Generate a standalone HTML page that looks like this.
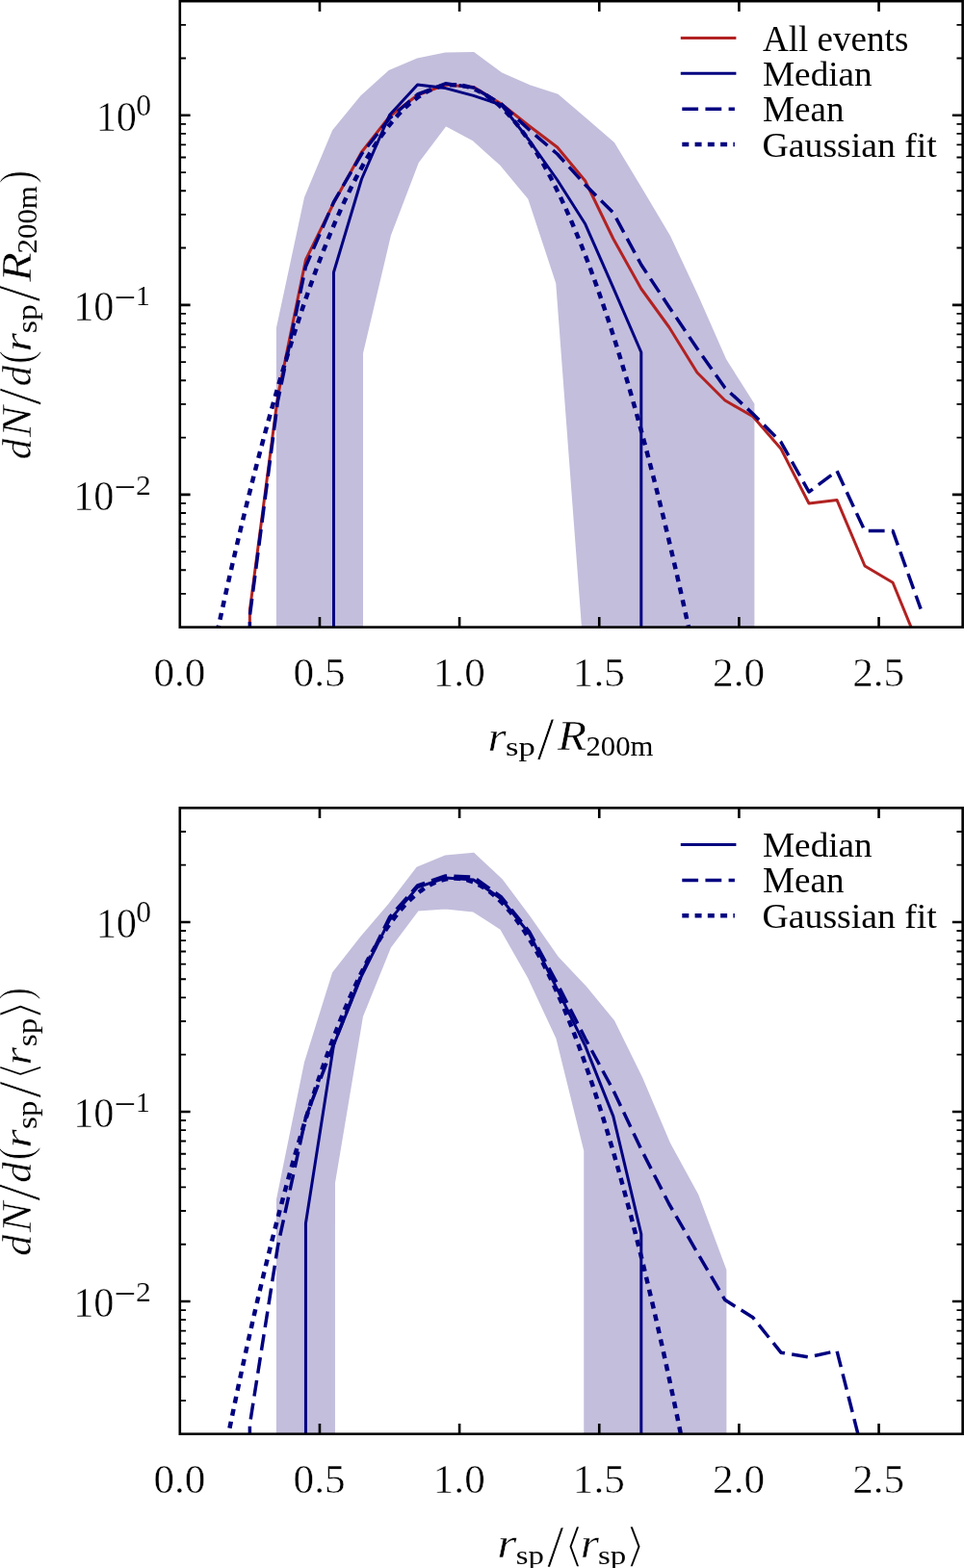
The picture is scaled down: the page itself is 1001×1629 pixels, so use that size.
<!DOCTYPE html>
<html><head><meta charset="utf-8"><title>Figure</title>
<style>
html,body{margin:0;padding:0;background:#fff;overflow:hidden;}
svg{display:block;}
text{font-family:"Liberation Serif","DejaVu Serif",serif;fill:#000;}
.it{font-style:italic;}
</style></head><body>
<svg width="1001" height="1629" viewBox="0 0 1001 1629">
<rect width="1001" height="1629" fill="#fff"/>
<defs>
<clipPath id="c0"><rect x="186.8" y="1.2" width="812.84" height="650.4"/></clipPath>
<clipPath id="c1"><rect x="186.8" y="839.35" width="812.84" height="650.4"/></clipPath>
</defs>
<g clip-path="url(#c0)">
<path d="M288.41 691.6 L288.41 341 L317.44 205.5 L346.47 136 L375.5 100.5 L404.53 74.3 L433.56 62 L462.59 56 L491.62 55.6 L520.64 77 L549.68 89.6 L578.71 99 L607.74 124 L636.77 149 L665.8 197 L694.83 246 L723.86 308 L752.88 374 L781.91 420 L781.91 691.6 L607.74 682 L578.71 294 L549.68 206 L520.64 171 L491.62 145 L462.59 129.5 L433.56 168 L404.53 244 L375.5 367 L375.5 691.6 Z" fill="rgb(195,190,220)" stroke="rgb(195,190,220)" stroke-width="3" stroke-linejoin="miter"/>
<path d="M259.38 691.6 L259.38 634 L288.41 412 L317.44 270 L346.47 211 L375.5 158 L404.53 121 L433.56 98.8 L462.59 88 L491.62 90.4 L520.64 108 L549.68 131 L578.71 153 L607.74 188 L636.77 248 L665.8 300 L694.83 340 L723.86 387 L752.88 416 L781.91 432.7 L810.94 466.3 L839.98 523 L869.01 519.4 L898.04 588 L927.07 605.3 L956.1 676 L956.1 691.6" fill="none" stroke="#b22222" stroke-width="3.0" stroke-linejoin="round"/>
<path d="M346.47 691.6 L346.47 283 L375.5 186 L404.53 119.5 L433.56 88 L462.59 91.6 L491.62 99.4 L520.64 109 L549.68 146 L578.71 187 L607.74 232.8 L636.77 298.9 L665.8 366 L665.8 691.6" fill="none" stroke="#000080" stroke-width="3.0" stroke-linejoin="round"/>
<path d="M259.38 691.6 L259.38 640 L288.41 417 L317.44 277 L346.47 210 L375.5 160 L404.53 123 L433.56 98 L462.59 86.8 L491.62 91 L520.64 108 L549.68 135 L578.71 160 L607.74 192 L636.77 221 L665.8 275 L694.83 319 L723.86 362 L752.88 403 L781.91 430 L810.94 459.3 L839.98 511 L869.01 489.2 L898.04 551.6 L927.07 551.6 L956.1 632.7" fill="none" stroke="#000080" stroke-width="3.5" stroke-dasharray="16.8 7.35" stroke-dashoffset="19.42" stroke-linejoin="round"/>
<path d="M221.35 676.61 L223.38 667.07 L225.41 657.6 L227.44 648.21 L229.47 638.9 L231.51 629.66 L233.54 620.51 L235.57 611.43 L237.6 602.43 L239.63 593.51 L241.67 584.66 L243.7 575.9 L245.73 567.21 L247.76 558.6 L249.8 550.07 L251.83 541.62 L253.86 533.24 L255.89 524.94 L257.92 516.72 L259.96 508.58 L261.99 500.52 L264.02 492.54 L266.05 484.63 L268.08 476.8 L270.12 469.05 L272.15 461.38 L274.18 453.78 L276.21 446.26 L278.24 438.83 L280.28 431.47 L282.31 424.18 L284.34 416.98 L286.37 409.85 L288.41 402.8 L290.44 395.83 L292.47 388.94 L294.5 382.13 L296.53 375.39 L298.57 368.73 L300.6 362.15 L302.63 355.65 L304.66 349.23 L306.69 342.88 L308.73 336.62 L310.76 330.43 L312.79 324.31 L314.82 318.28 L316.85 312.33 L318.89 306.45 L320.92 300.65 L322.95 294.93 L324.98 289.29 L327.01 283.72 L329.05 278.23 L331.08 272.82 L333.11 267.49 L335.14 262.24 L337.18 257.07 L339.21 251.97 L341.24 246.95 L343.27 242.01 L345.3 237.15 L347.34 232.36 L349.37 227.66 L351.4 223.03 L353.43 218.48 L355.46 214.01 L357.5 209.61 L359.53 205.3 L361.56 201.06 L363.59 196.9 L365.62 192.82 L367.66 188.81 L369.69 184.89 L371.72 181.04 L373.75 177.27 L375.79 173.58 L377.82 169.97 L379.85 166.43 L381.88 162.97 L383.91 159.6 L385.95 156.29 L387.98 153.07 L390.01 149.93 L392.04 146.86 L394.07 143.87 L396.11 140.96 L398.14 138.13 L400.17 135.37 L402.2 132.7 L404.23 130.1 L406.27 127.58 L408.3 125.14 L410.33 122.77 L412.36 120.48 L414.4 118.28 L416.43 116.15 L418.46 114.09 L420.49 112.12 L422.52 110.22 L424.56 108.41 L426.59 106.67 L428.62 105.01 L430.65 103.42 L432.68 101.92 L434.72 100.49 L436.75 99.14 L438.78 97.87 L440.81 96.67 L442.84 95.56 L444.88 94.52 L446.91 93.56 L448.94 92.68 L450.97 91.88 L453.01 91.15 L455.04 90.51 L457.07 89.94 L459.1 89.45 L461.13 89.04 L463.17 88.7 L465.2 88.44 L467.23 88.27 L469.26 88.17 L471.29 88.14 L473.33 88.2 L475.36 88.33 L477.39 88.54 L479.42 88.83 L481.45 89.2 L483.49 89.65 L485.52 90.17 L487.55 90.77 L489.58 91.46 L491.62 92.21 L493.65 93.05 L495.68 93.96 L497.71 94.96 L499.74 96.03 L501.78 97.18 L503.81 98.4 L505.84 99.71 L507.87 101.09 L509.9 102.55 L511.94 104.09 L513.97 105.71 L516 107.4 L518.03 109.18 L520.06 111.03 L522.1 112.96 L524.13 114.96 L526.16 117.05 L528.19 119.21 L530.22 121.45 L532.26 123.77 L534.29 126.17 L536.32 128.65 L538.35 131.2 L540.39 133.83 L542.42 136.54 L544.45 139.33 L546.48 142.2 L548.51 145.14 L550.55 148.16 L552.58 151.26 L554.61 154.44 L556.64 157.7 L558.67 161.03 L560.71 164.45 L562.74 167.94 L564.77 171.51 L566.8 175.15 L568.83 178.88 L570.87 182.68 L572.9 186.56 L574.93 190.52 L576.96 194.56 L579 198.67 L581.03 202.87 L583.06 207.14 L585.09 211.49 L587.12 215.91 L589.16 220.42 L591.19 225 L593.22 229.67 L595.25 234.4 L597.28 239.22 L599.32 244.12 L601.35 249.09 L603.38 254.14 L605.41 259.27 L607.44 264.48 L609.48 269.77 L611.51 275.13 L613.54 280.58 L615.57 286.1 L617.61 291.69 L619.64 297.37 L621.67 303.13 L623.7 308.96 L625.73 314.87 L627.77 320.86 L629.8 326.92 L631.83 333.07 L633.86 339.29 L635.89 345.59 L637.93 351.97 L639.96 358.43 L641.99 364.96 L644.02 371.58 L646.05 378.27 L648.09 385.04 L650.12 391.89 L652.15 398.81 L654.18 405.82 L656.22 412.9 L658.25 420.06 L660.28 427.29 L662.31 434.61 L664.34 442 L666.38 449.48 L668.41 457.03 L670.44 464.65 L672.47 472.36 L674.5 480.14 L676.54 488.01 L678.57 495.95 L680.6 503.97 L682.63 512.06 L684.66 520.24 L686.7 528.49 L688.73 536.82 L690.76 545.23 L692.79 553.72 L694.83 562.28 L696.86 570.92 L698.89 579.65 L700.92 588.44 L702.95 597.32 L704.99 606.28 L707.02 615.31 L709.05 624.42 L711.08 633.61 L713.11 642.88 L715.15 652.22 L717.18 661.65 L719.21 671.15 L721.24 680.73" fill="none" stroke="#000080" stroke-width="4.5" stroke-dasharray="7.0 6.27" stroke-dashoffset="6.15"/>
</g>
<path d="M331.95 651.6 V640.9 M331.95 1.2 V11.9 M477.1 651.6 V640.9 M477.1 1.2 V11.9 M622.25 651.6 V640.9 M622.25 1.2 V11.9 M767.4 651.6 V640.9 M767.4 1.2 V11.9 M912.55 651.6 V640.9 M912.55 1.2 V11.9 M186.8 316.85 H197.6 M999.64 316.85 H988.84 M186.8 119.82 H197.6 M999.64 119.82 H988.84 M186.8 513.88 H197.6 M999.64 513.88 H988.84" stroke="#000" stroke-width="2.6" fill="none"/>
<path d="M186.8 616.9 H193 M999.64 616.9 H993.44 M186.8 592.29 H193 M999.64 592.29 H993.44 M186.8 573.19 H193 M999.64 573.19 H993.44 M186.8 557.59 H193 M999.64 557.59 H993.44 M186.8 544.4 H193 M999.64 544.4 H993.44 M186.8 532.98 H193 M999.64 532.98 H993.44 M186.8 522.9 H193 M999.64 522.9 H993.44 M186.8 454.57 H193 M999.64 454.57 H993.44 M186.8 419.88 H193 M999.64 419.88 H993.44 M186.8 395.26 H193 M999.64 395.26 H993.44 M186.8 376.16 H193 M999.64 376.16 H993.44 M186.8 360.56 H193 M999.64 360.56 H993.44 M186.8 347.37 H193 M999.64 347.37 H993.44 M186.8 335.95 H193 M999.64 335.95 H993.44 M186.8 325.87 H193 M999.64 325.87 H993.44 M186.8 257.54 H193 M999.64 257.54 H993.44 M186.8 222.85 H193 M999.64 222.85 H993.44 M186.8 198.23 H193 M999.64 198.23 H993.44 M186.8 179.14 H193 M999.64 179.14 H993.44 M186.8 163.53 H193 M999.64 163.53 H993.44 M186.8 150.34 H193 M999.64 150.34 H993.44 M186.8 138.92 H193 M999.64 138.92 H993.44 M186.8 128.84 H193 M999.64 128.84 H993.44 M186.8 60.51 H193 M999.64 60.51 H993.44 M186.8 25.82 H193 M999.64 25.82 H993.44" stroke="#000" stroke-width="1.85" fill="none"/>
<rect x="186.8" y="1.2" width="812.84" height="650.4" fill="none" stroke="#000" stroke-width="2.6" stroke-linejoin="miter"/>
<g transform="translate(186.45 712.74) scale(1.0306 1.0286)"><text x="0" y="0" font-size="42" text-anchor="middle" stroke="#fff" stroke-width="0.5">0.0</text></g>
<g transform="translate(331.6 712.74) scale(1.0306 1.0286)"><text x="0" y="0" font-size="42" text-anchor="middle" stroke="#fff" stroke-width="0.5">0.5</text></g>
<g transform="translate(476.75 712.74) scale(1.0306 1.0286)"><text x="0" y="0" font-size="42" text-anchor="middle" stroke="#fff" stroke-width="0.5">1.0</text></g>
<g transform="translate(621.9 712.74) scale(1.0306 1.0286)"><text x="0" y="0" font-size="42" text-anchor="middle" stroke="#fff" stroke-width="0.5">1.5</text></g>
<g transform="translate(767.05 712.74) scale(1.0306 1.0286)"><text x="0" y="0" font-size="42" text-anchor="middle" stroke="#fff" stroke-width="0.5">2.0</text></g>
<g transform="translate(912.2 712.74) scale(1.0306 1.0286)"><text x="0" y="0" font-size="42" text-anchor="middle" stroke="#fff" stroke-width="0.5">2.5</text></g>
<g transform="translate(99.66 135.64) scale(1.0097 1.0536)"><text x="0" y="0" font-size="42" stroke="#fff" stroke-width="0.5">10</text></g>
<g transform="translate(141.28 119.94) scale(1.0560 1.0350)"><text x="0" y="0" font-size="30" stroke="#fff" stroke-width="0.2">0</text></g>
<g transform="translate(76.16 332.74) scale(1.0097 1.0536)"><text x="0" y="0" font-size="42" stroke="#fff" stroke-width="0.5">10</text></g>
<g transform="translate(118.41 321) scale(1.3286 1.2000)"><text x="0" y="0" font-size="30">−</text></g>
<g transform="translate(141.1 317) scale(0.9810 1.0127)"><text x="0" y="0" font-size="30">1</text></g>
<g transform="translate(76.16 529.84) scale(1.0097 1.0536)"><text x="0" y="0" font-size="42" stroke="#fff" stroke-width="0.5">10</text></g>
<g transform="translate(118.41 518.1) scale(1.3286 1.2000)"><text x="0" y="0" font-size="30">−</text></g>
<g transform="translate(141.02 514.05) scale(1.0553 1.0051)"><text x="0" y="0" font-size="30" stroke="#fff" stroke-width="0.2">2</text></g>
<path d="M708.3 39.4 H762.9" stroke="#b22222" stroke-width="3.0" stroke-linecap="square"/>
<g transform="translate(791.96 52.65) scale(0.9759 1.0038)"><text x="0" y="0" font-size="38">All events</text></g>
<path d="M708.3 76.3 H762.9" stroke="#000080" stroke-width="3.0" stroke-linecap="square"/>
<g transform="translate(792.02 88.96) scale(0.9799 0.9509)"><text x="0" y="0" font-size="38">Median</text></g>
<path d="M708.3 113.2 H762.9" stroke="#000080" stroke-width="3.5" stroke-dasharray="16.8 7.35"/>
<g transform="translate(792.02 125.76) scale(0.9765 0.9720)"><text x="0" y="0" font-size="38">Mean</text></g>
<path d="M708.3 150.1 H762.9" stroke="#000080" stroke-width="4.5" stroke-dasharray="7.0 6.27"/>
<g transform="translate(791.51 162.97) scale(0.9936 0.9333)"><text x="0" y="0" font-size="38">Gaussian fit</text></g>
<g clip-path="url(#c1)">
<path d="M288.41 1529.75 L288.41 1246.5 L317.44 1103.8 L346.47 1011 L375.5 974 L404.53 940 L433.56 902 L462.59 890 L491.62 887.2 L520.64 914.5 L549.68 953.5 L578.71 995 L607.74 1025.8 L636.77 1061.1 L665.8 1120 L694.83 1188.5 L723.86 1241.6 L752.88 1319.5 L752.88 1529.75 L607.74 1529.75 L607.74 1195.3 L578.71 1078 L549.68 1015.8 L520.64 964.7 L491.62 945.9 L462.59 943.1 L433.56 945.1 L404.53 983.9 L375.5 1055.8 L346.47 1229 L346.47 1529.75 Z" fill="rgb(195,190,220)" stroke="rgb(195,190,220)" stroke-width="3" stroke-linejoin="miter"/>
<path d="M317.44 1529.75 L317.44 1271 L346.47 1085.8 L375.5 1013.8 L404.53 955.9 L433.56 921.9 L462.59 912 L491.62 914 L520.64 934 L549.68 970 L578.71 1027.8 L607.74 1086.6 L636.77 1159.6 L665.8 1282 L665.8 1529.75" fill="none" stroke="#000080" stroke-width="3.0" stroke-linejoin="round"/>
<path d="M259.38 1529.75 L259.38 1480 L288.41 1295 L317.44 1161 L346.47 1085 L375.5 1012 L404.53 953 L433.56 920 L462.59 910 L491.62 911 L520.64 932 L549.68 968 L578.71 1022 L607.74 1079 L636.77 1132.6 L665.8 1194 L694.83 1251 L723.86 1301 L752.88 1350.6 L781.91 1368.8 L810.94 1405.2 L839.98 1409.9 L869.01 1403.4 L898.04 1518" fill="none" stroke="#000080" stroke-width="3.5" stroke-dasharray="16.8 7.35" stroke-dashoffset="17.08" stroke-linejoin="round"/>
<path d="M231.51 1518.17 L233.54 1507.98 L235.57 1497.88 L237.6 1487.86 L239.63 1477.93 L241.67 1468.09 L243.7 1458.33 L245.73 1448.66 L247.76 1439.07 L249.8 1429.58 L251.83 1420.16 L253.86 1410.84 L255.89 1401.6 L257.92 1392.45 L259.96 1383.38 L261.99 1374.4 L264.02 1365.51 L266.05 1356.71 L268.08 1347.99 L270.12 1339.35 L272.15 1330.81 L274.18 1322.34 L276.21 1313.97 L278.24 1305.68 L280.28 1297.48 L282.31 1289.37 L284.34 1281.34 L286.37 1273.4 L288.41 1265.54 L290.44 1257.77 L292.47 1250.09 L294.5 1242.49 L296.53 1234.98 L298.57 1227.56 L300.6 1220.22 L302.63 1212.97 L304.66 1205.81 L306.69 1198.73 L308.73 1191.74 L310.76 1184.84 L312.79 1178.02 L314.82 1171.29 L316.85 1164.64 L318.89 1158.08 L320.92 1151.61 L322.95 1145.22 L324.98 1138.92 L327.01 1132.71 L329.05 1126.59 L331.08 1120.55 L333.11 1114.59 L335.14 1108.72 L337.18 1102.94 L339.21 1097.25 L341.24 1091.64 L343.27 1086.12 L345.3 1080.68 L347.34 1075.34 L349.37 1070.07 L351.4 1064.9 L353.43 1059.81 L355.46 1054.81 L357.5 1049.89 L359.53 1045.06 L361.56 1040.32 L363.59 1035.66 L365.62 1031.09 L367.66 1026.6 L369.69 1022.21 L371.72 1017.89 L373.75 1013.67 L375.79 1009.53 L377.82 1005.48 L379.85 1001.51 L381.88 997.63 L383.91 993.84 L385.95 990.13 L387.98 986.51 L390.01 982.98 L392.04 979.53 L394.07 976.17 L396.11 972.9 L398.14 969.71 L400.17 966.61 L402.2 963.6 L404.23 960.67 L406.27 957.83 L408.3 955.07 L410.33 952.4 L412.36 949.82 L414.4 947.32 L416.43 944.91 L418.46 942.59 L420.49 940.35 L422.52 938.2 L424.56 936.14 L426.59 934.16 L428.62 932.27 L430.65 930.47 L432.68 928.75 L434.72 927.12 L436.75 925.57 L438.78 924.11 L440.81 922.74 L442.84 921.45 L444.88 920.25 L446.91 919.14 L448.94 918.11 L450.97 917.17 L453.01 916.32 L455.04 915.55 L457.07 914.87 L459.1 914.28 L461.13 913.77 L463.17 913.35 L465.2 913.01 L467.23 912.76 L469.26 912.6 L471.29 912.52 L473.33 912.54 L475.36 912.63 L477.39 912.82 L479.42 913.09 L481.45 913.44 L483.49 913.89 L485.52 914.41 L487.55 915.03 L489.58 915.73 L491.62 916.52 L493.65 917.4 L495.68 918.36 L497.71 919.41 L499.74 920.54 L501.78 921.76 L503.81 923.07 L505.84 924.46 L507.87 925.94 L509.9 927.51 L511.94 929.16 L513.97 930.9 L516 932.73 L518.03 934.64 L520.06 936.64 L522.1 938.72 L524.13 940.89 L526.16 943.15 L528.19 945.5 L530.22 947.93 L532.26 950.45 L534.29 953.05 L536.32 955.74 L538.35 958.52 L540.39 961.38 L542.42 964.33 L544.45 967.36 L546.48 970.49 L548.51 973.7 L550.55 976.99 L552.58 980.37 L554.61 983.84 L556.64 987.4 L558.67 991.04 L560.71 994.76 L562.74 998.58 L564.77 1002.48 L566.8 1006.47 L568.83 1010.54 L570.87 1014.7 L572.9 1018.95 L574.93 1023.28 L576.96 1027.7 L579 1032.2 L581.03 1036.79 L583.06 1041.47 L585.09 1046.24 L587.12 1051.09 L589.16 1056.03 L591.19 1061.05 L593.22 1066.16 L595.25 1071.36 L597.28 1076.64 L599.32 1082.01 L601.35 1087.47 L603.38 1093.01 L605.41 1098.64 L607.44 1104.36 L609.48 1110.16 L611.51 1116.05 L613.54 1122.02 L615.57 1128.08 L617.61 1134.23 L619.64 1140.46 L621.67 1146.79 L623.7 1153.19 L625.73 1159.69 L627.77 1166.27 L629.8 1172.93 L631.83 1179.69 L633.86 1186.53 L635.89 1193.45 L637.93 1200.46 L639.96 1207.56 L641.99 1214.75 L644.02 1222.02 L646.05 1229.38 L648.09 1236.82 L650.12 1244.35 L652.15 1251.97 L654.18 1259.67 L656.22 1267.46 L658.25 1275.34 L660.28 1283.3 L662.31 1291.35 L664.34 1299.49 L666.38 1307.71 L668.41 1316.02 L670.44 1324.42 L672.47 1332.9 L674.5 1341.47 L676.54 1350.12 L678.57 1358.86 L680.6 1367.69 L682.63 1376.6 L684.66 1385.6 L686.7 1394.69 L688.73 1403.86 L690.76 1413.12 L692.79 1422.47 L694.83 1431.9 L696.86 1441.42 L698.89 1451.03 L700.92 1460.72 L702.95 1470.5 L704.99 1480.36 L707.02 1490.31 L709.05 1500.35 L711.08 1510.47" fill="none" stroke="#000080" stroke-width="4.5" stroke-dasharray="7.0 6.27" stroke-dashoffset="4.64"/>
</g>
<path d="M331.95 1489.75 V1479.05 M331.95 839.35 V850.05 M477.1 1489.75 V1479.05 M477.1 839.35 V850.05 M622.25 1489.75 V1479.05 M622.25 839.35 V850.05 M767.4 1489.75 V1479.05 M767.4 839.35 V850.05 M912.55 1489.75 V1479.05 M912.55 839.35 V850.05 M186.8 1155 H197.6 M999.64 1155 H988.84 M186.8 957.97 H197.6 M999.64 957.97 H988.84 M186.8 1352.03 H197.6 M999.64 1352.03 H988.84" stroke="#000" stroke-width="2.6" fill="none"/>
<path d="M186.8 1455.05 H193 M999.64 1455.05 H993.44 M186.8 1430.44 H193 M999.64 1430.44 H993.44 M186.8 1411.34 H193 M999.64 1411.34 H993.44 M186.8 1395.74 H193 M999.64 1395.74 H993.44 M186.8 1382.55 H193 M999.64 1382.55 H993.44 M186.8 1371.13 H193 M999.64 1371.13 H993.44 M186.8 1361.05 H193 M999.64 1361.05 H993.44 M186.8 1292.72 H193 M999.64 1292.72 H993.44 M186.8 1258.03 H193 M999.64 1258.03 H993.44 M186.8 1233.41 H193 M999.64 1233.41 H993.44 M186.8 1214.31 H193 M999.64 1214.31 H993.44 M186.8 1198.71 H193 M999.64 1198.71 H993.44 M186.8 1185.52 H193 M999.64 1185.52 H993.44 M186.8 1174.1 H193 M999.64 1174.1 H993.44 M186.8 1164.02 H193 M999.64 1164.02 H993.44 M186.8 1095.69 H193 M999.64 1095.69 H993.44 M186.8 1061 H193 M999.64 1061 H993.44 M186.8 1036.38 H193 M999.64 1036.38 H993.44 M186.8 1017.29 H193 M999.64 1017.29 H993.44 M186.8 1001.68 H193 M999.64 1001.68 H993.44 M186.8 988.49 H193 M999.64 988.49 H993.44 M186.8 977.07 H193 M999.64 977.07 H993.44 M186.8 966.99 H193 M999.64 966.99 H993.44 M186.8 898.66 H193 M999.64 898.66 H993.44 M186.8 863.97 H193 M999.64 863.97 H993.44" stroke="#000" stroke-width="1.85" fill="none"/>
<rect x="186.8" y="839.35" width="812.84" height="650.4" fill="none" stroke="#000" stroke-width="2.6" stroke-linejoin="miter"/>
<g transform="translate(186.45 1550.89) scale(1.0306 1.0286)"><text x="0" y="0" font-size="42" text-anchor="middle" stroke="#fff" stroke-width="0.5">0.0</text></g>
<g transform="translate(331.6 1550.89) scale(1.0306 1.0286)"><text x="0" y="0" font-size="42" text-anchor="middle" stroke="#fff" stroke-width="0.5">0.5</text></g>
<g transform="translate(476.75 1550.89) scale(1.0306 1.0286)"><text x="0" y="0" font-size="42" text-anchor="middle" stroke="#fff" stroke-width="0.5">1.0</text></g>
<g transform="translate(621.9 1550.89) scale(1.0306 1.0286)"><text x="0" y="0" font-size="42" text-anchor="middle" stroke="#fff" stroke-width="0.5">1.5</text></g>
<g transform="translate(767.05 1550.89) scale(1.0306 1.0286)"><text x="0" y="0" font-size="42" text-anchor="middle" stroke="#fff" stroke-width="0.5">2.0</text></g>
<g transform="translate(912.2 1550.89) scale(1.0306 1.0286)"><text x="0" y="0" font-size="42" text-anchor="middle" stroke="#fff" stroke-width="0.5">2.5</text></g>
<g transform="translate(99.66 973.79) scale(1.0097 1.0536)"><text x="0" y="0" font-size="42" stroke="#fff" stroke-width="0.5">10</text></g>
<g transform="translate(141.28 958.09) scale(1.0560 1.0350)"><text x="0" y="0" font-size="30" stroke="#fff" stroke-width="0.2">0</text></g>
<g transform="translate(76.16 1170.89) scale(1.0097 1.0536)"><text x="0" y="0" font-size="42" stroke="#fff" stroke-width="0.5">10</text></g>
<g transform="translate(118.41 1159.15) scale(1.3286 1.2000)"><text x="0" y="0" font-size="30">−</text></g>
<g transform="translate(141.1 1155.15) scale(0.9810 1.0127)"><text x="0" y="0" font-size="30">1</text></g>
<g transform="translate(76.16 1367.99) scale(1.0097 1.0536)"><text x="0" y="0" font-size="42" stroke="#fff" stroke-width="0.5">10</text></g>
<g transform="translate(118.41 1356.25) scale(1.3286 1.2000)"><text x="0" y="0" font-size="30">−</text></g>
<g transform="translate(141.02 1352.2) scale(1.0553 1.0051)"><text x="0" y="0" font-size="30" stroke="#fff" stroke-width="0.2">2</text></g>
<path d="M708.3 877.55 H762.9" stroke="#000080" stroke-width="3.0" stroke-linecap="square"/>
<g transform="translate(792.02 890.21) scale(0.9799 0.9509)"><text x="0" y="0" font-size="38">Median</text></g>
<path d="M708.3 914.45 H762.9" stroke="#000080" stroke-width="3.5" stroke-dasharray="16.8 7.35"/>
<g transform="translate(792.02 927.01) scale(0.9765 0.9720)"><text x="0" y="0" font-size="38">Mean</text></g>
<path d="M708.3 951.35 H762.9" stroke="#000080" stroke-width="4.5" stroke-dasharray="7.0 6.27"/>
<g transform="translate(791.51 964.22) scale(0.9936 0.9333)"><text x="0" y="0" font-size="38">Gaussian fit</text></g>
<g transform="translate(506.46 779.76) scale(1.1719 1.0390)"><text x="0" y="0" font-size="42" font-style="italic" stroke="#fff" stroke-width="0.45">r</text></g>
<g transform="translate(525.06 785.14) scale(1.1546 0.9383)"><text x="0" y="0" font-size="30">sp</text></g>
<g transform="translate(557.74 788.82) scale(1.5163 1.5027)"><text x="0" y="0" font-size="42" stroke="#fff" stroke-width="0.5">/</text></g>
<g transform="translate(579.00 779.47) scale(1.1717 1.0667)"><text x="0" y="0" font-size="42" font-style="italic" stroke="#fff" stroke-width="0.45">R</text></g>
<g transform="translate(608.42 785.35) scale(1.0241 1.0025)"><text x="0" y="0" font-size="30">200m</text></g>
<g transform="translate(516.33 1618.06) scale(1.2351 1.0597)"><text x="0" y="0" font-size="42" font-style="italic" stroke="#fff" stroke-width="0.45">r</text></g>
<g transform="translate(535.63 1624.54) scale(1.0928 0.9383)"><text x="0" y="0" font-size="30">sp</text></g>
<g transform="translate(568.37 1626.63) scale(1.4605 1.4811)"><text x="0" y="0" font-size="42" stroke="#fff" stroke-width="0.5">/</text></g>
<g transform="translate(584.99 1621.79) scale(1.3714 1.1577)"><text x="0" y="0" font-size="42" stroke="#fff" stroke-width="1.9">⟨</text></g>
<g transform="translate(602.74 1618.06) scale(1.1789 1.0597)"><text x="0" y="0" font-size="42" font-style="italic" stroke="#fff" stroke-width="0.45">r</text></g>
<g transform="translate(621.03 1624.54) scale(1.0969 0.9383)"><text x="0" y="0" font-size="30">sp</text></g>
<g transform="translate(647.94 1621.79) scale(1.4222 1.1577)"><text x="0" y="0" font-size="42" stroke="#fff" stroke-width="1.9">⟩</text></g>
<g transform="translate(31.85 477.23) scale(1.0154 1.0182) rotate(-90)"><text x="0" y="0" font-size="42" font-style="italic" stroke="#fff" stroke-width="0.45">d</text></g>
<g transform="translate(32.07 454.10) scale(1.0778 1.1462) rotate(-90)"><text x="0" y="0" font-size="42" font-style="italic" stroke="#fff" stroke-width="0.45">N</text></g>
<g transform="translate(32.73 190.58) scale(1.1483 0.9600) rotate(-90)"><text x="0" y="0" font-size="42" stroke="#fff" stroke-width="0.8">)</text></g>
<g transform="translate(41.52 420.75) scale(1.5099 1.5070) rotate(-90)"><text x="0" y="0" font-size="42" stroke="#fff" stroke-width="0.5">/</text></g>
<g transform="translate(31.85 401.23) scale(1.0154 1.0182) rotate(-90)"><text x="0" y="0" font-size="42" font-style="italic" stroke="#fff" stroke-width="0.45">d</text></g>
<g transform="translate(32.57 378.00) scale(1.1429 0.9800) rotate(-90)"><text x="0" y="0" font-size="42" stroke="#fff" stroke-width="0.8">(</text></g>
<g transform="translate(32.15 365.41) scale(1.0026 1.2070) rotate(-90)"><text x="0" y="0" font-size="42" font-style="italic" stroke="#fff" stroke-width="0.45">r</text></g>
<g transform="translate(37.73 346.31) scale(0.9877 1.1299) rotate(-90)"><text x="0" y="0" font-size="30">sp</text></g>
<g transform="translate(41.32 313.33) scale(1.5027 1.4512) rotate(-90)"><text x="0" y="0" font-size="42" stroke="#fff" stroke-width="0.5">/</text></g>
<g transform="translate(31.66 292.80) scale(1.0556 1.1919) rotate(-90)"><text x="0" y="0" font-size="42" font-style="italic" stroke="#fff" stroke-width="0.45">R</text></g>
<g transform="translate(38.05 263.59) scale(0.9926 1.0331) rotate(-90)"><text x="0" y="0" font-size="30">200m</text></g>
<g transform="translate(32.14 1304.77) scale(1.0222 1.0442) rotate(-90)"><text x="0" y="0" font-size="42" font-style="italic" stroke="#fff" stroke-width="0.45">d</text></g>
<g transform="translate(32.17 1280.20) scale(1.0741 1.1227) rotate(-90)"><text x="0" y="0" font-size="42" font-style="italic" stroke="#fff" stroke-width="0.45">N</text></g>
<g transform="translate(37.59 1087.18) scale(0.9778 1.1010) rotate(-90)"><text x="0" y="0" font-size="30">sp</text></g>
<g transform="translate(36.59 1061.26) scale(1.1803 1.4222) rotate(-90)"><text x="0" y="0" font-size="42" stroke="#fff" stroke-width="1.9">⟩</text></g>
<g transform="translate(32.49 1039.11) scale(1.1401 0.9200) rotate(-90)"><text x="0" y="0" font-size="42" stroke="#fff" stroke-width="0.8">)</text></g>
<g transform="translate(41.32 1247.55) scale(1.5027 1.5070) rotate(-90)"><text x="0" y="0" font-size="42" stroke="#fff" stroke-width="0.5">/</text></g>
<g transform="translate(32.14 1228.63) scale(1.0222 1.0182) rotate(-90)"><text x="0" y="0" font-size="42" font-style="italic" stroke="#fff" stroke-width="0.45">d</text></g>
<g transform="translate(32.34 1205.20) scale(1.1347 0.9800) rotate(-90)"><text x="0" y="0" font-size="42" stroke="#fff" stroke-width="0.8">(</text></g>
<g transform="translate(32.15 1192.71) scale(1.0182 1.2070) rotate(-90)"><text x="0" y="0" font-size="42" font-style="italic" stroke="#fff" stroke-width="0.45">r</text></g>
<g transform="translate(37.65 1172.98) scale(0.9679 1.1052) rotate(-90)"><text x="0" y="0" font-size="30">sp</text></g>
<g transform="translate(41.52 1140.43) scale(1.5099 1.4605) rotate(-90)"><text x="0" y="0" font-size="42" stroke="#fff" stroke-width="0.5">/</text></g>
<g transform="translate(36.59 1122.67) scale(1.1803 1.2571) rotate(-90)"><text x="0" y="0" font-size="42" stroke="#fff" stroke-width="1.9">⟨</text></g>
<g transform="translate(32.05 1106.57) scale(0.9818 1.1368) rotate(-90)"><text x="0" y="0" font-size="42" font-style="italic" stroke="#fff" stroke-width="0.45">r</text></g>
</svg></body></html>
